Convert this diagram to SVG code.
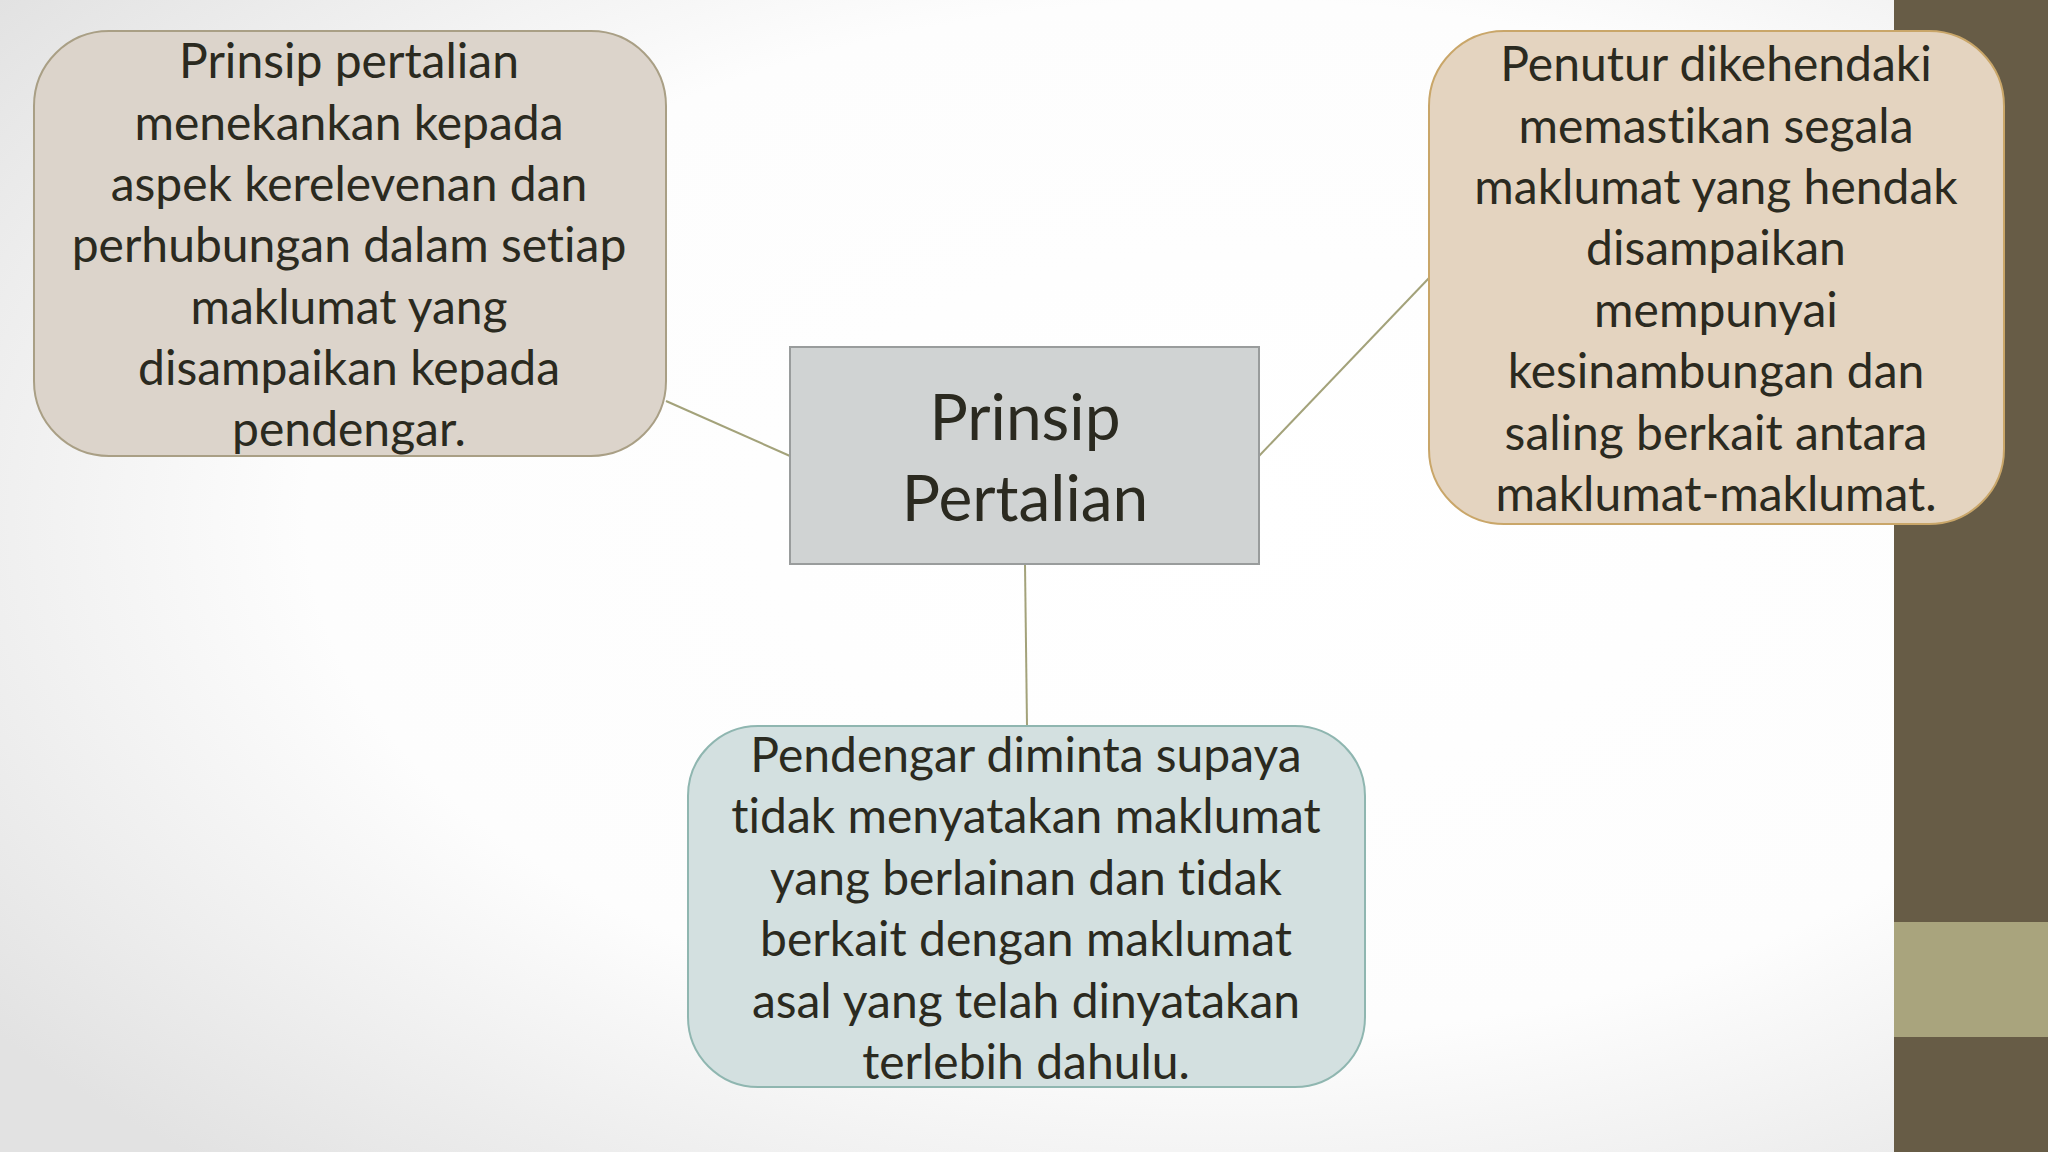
<svg xmlns="http://www.w3.org/2000/svg" width="2048" height="1152" viewBox="0 0 2048 1152">
<defs>
<radialGradient id="bg" cx="0.6" cy="0.45" r="0.75">
<stop offset="0" stop-color="#ffffff"/>
<stop offset="0.6" stop-color="#fdfdfd"/>
<stop offset="1" stop-color="#e2e2e2"/>
</radialGradient>
<style>
.t{font-family:Lato,"Open Sans","Liberation Sans",sans-serif;font-size:48px;fill:#2b2a20;text-anchor:middle;font-variant-ligatures:none}
.c{font-family:Lato,"Open Sans","Liberation Sans",sans-serif;font-size:64px;fill:#2b2a20;text-anchor:middle;font-variant-ligatures:none}
.con{stroke:#a3a27a;stroke-width:2;fill:none}
</style>
</defs>
<rect x="0" y="0" width="2048" height="1152" fill="url(#bg)"/>
<g id="sidebar">
<rect x="1894" y="0" width="154" height="1152" fill="#675c46"/>
<rect x="1894" y="922" width="154" height="115" fill="#a9a47d"/>
</g>
<g id="connectors">
<line class="con" x1="666" y1="401" x2="790" y2="456"/>
<line class="con" x1="1259" y1="456" x2="1429" y2="278"/>
<line class="con" x1="1025" y1="564" x2="1027" y2="726"/>
</g>
<g id="node-left">
<rect x="34" y="31" width="632" height="425" rx="75" fill="#dcd4cb" stroke="#a99f85" stroke-width="2"/>
<text class="t" x="349" y="78">Prinsip pertalian</text>
<text class="t" x="349" y="140">menekankan kepada</text>
<text class="t" x="349" y="201">aspek kerelevenan dan</text>
<text class="t" x="349" y="262">perhubungan dalam setiap</text>
<text class="t" x="349" y="324">maklumat yang</text>
<text class="t" x="349" y="385">disampaikan kepada</text>
<text class="t" x="349" y="446">pendengar.</text>
</g>
<g id="node-center">
<rect x="790" y="347" width="469" height="217" fill="#d0d3d3" stroke="#999c9c" stroke-width="2"/>
<text class="c" x="1025" y="440">Prinsip</text>
<text class="c" x="1025" y="521">Pertalian</text>
</g>
<g id="node-right">
<rect x="1429" y="31" width="575" height="493" rx="75" fill="#e4d4c0" stroke="#c9a669" stroke-width="2"/>
<text class="t" x="1716" y="81">Penutur dikehendaki</text>
<text class="t" x="1716" y="143">memastikan segala</text>
<text class="t" x="1716" y="204">maklumat yang hendak</text>
<text class="t" x="1716" y="265">disampaikan</text>
<text class="t" x="1716" y="327">mempunyai</text>
<text class="t" x="1716" y="388">kesinambungan dan</text>
<text class="t" x="1716" y="450">saling berkait antara</text>
<text class="t" x="1716" y="511">maklumat-maklumat.</text>
</g>
<g id="node-bottom">
<rect x="688" y="726" width="677" height="361" rx="70" fill="#d3e0e0" stroke="#8fb6b0" stroke-width="2"/>
<text class="t" x="1026" y="772">Pendengar diminta supaya</text>
<text class="t" x="1026" y="833">tidak menyatakan maklumat</text>
<text class="t" x="1026" y="895">yang berlainan dan tidak</text>
<text class="t" x="1026" y="956">berkait dengan maklumat</text>
<text class="t" x="1026" y="1018">asal yang telah dinyatakan</text>
<text class="t" x="1026" y="1079">terlebih dahulu.</text>
</g>
</svg>
